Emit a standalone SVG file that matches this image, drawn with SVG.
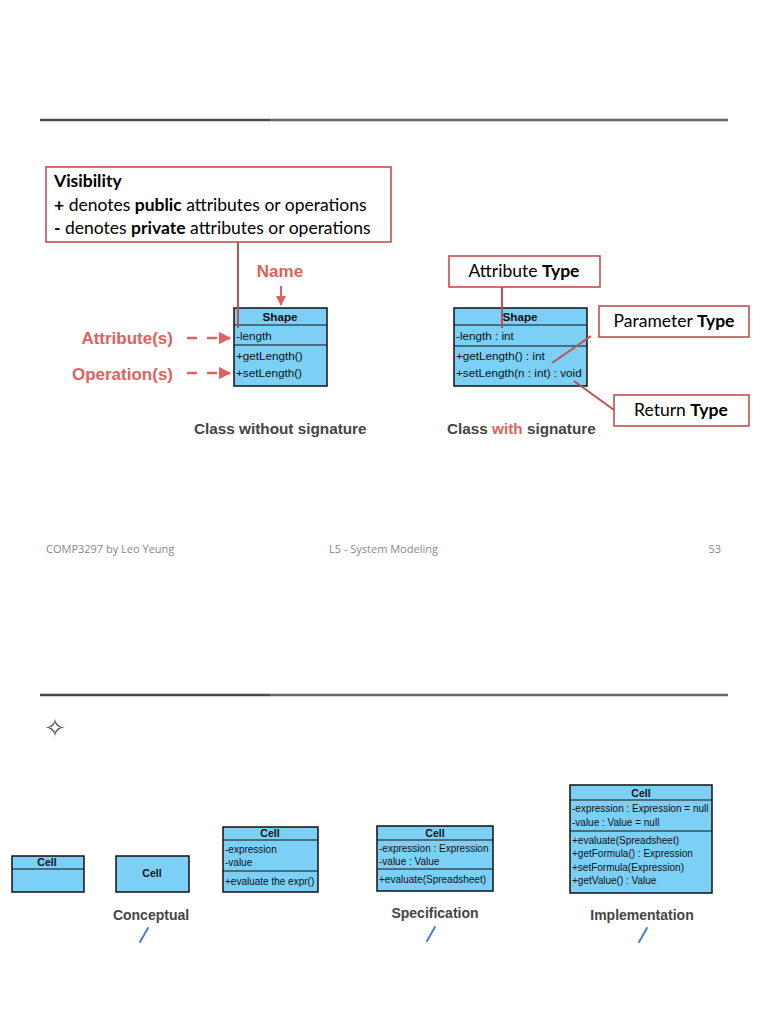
<svg xmlns="http://www.w3.org/2000/svg" width="768" height="1024" viewBox="0 0 768 1024">
<style>
.sep{stroke-width:2.5;fill:none}
.call{fill:#fff;stroke:#c0504d;stroke-width:1.6}
.callt{font-family:Lato,"Liberation Sans",sans-serif;font-size:17.5px;fill:#000}
.b{font-weight:bold}
.red{stroke:#c0504d;stroke-width:2;fill:none}
.redlbl{font-family:"Liberation Sans",Arial,sans-serif;font-weight:bold;font-size:17px;fill:#e0625c}
.cls{fill:#7ccff5;stroke:#111;stroke-width:1.5}
.div{stroke:#111;stroke-width:1.2}
.ct{font-family:"Liberation Sans",Arial,sans-serif;font-size:11.7px;fill:#111}
.cn{font-family:"Liberation Sans",Arial,sans-serif;font-size:11.7px;font-weight:bold;fill:#111}
.bt{font-family:"Liberation Sans",Arial,sans-serif;font-size:10px;fill:#111}
.bn{font-family:"Liberation Sans",Arial,sans-serif;font-size:10.5px;font-weight:bold;fill:#111}
.cap{font-family:"Liberation Sans",Arial,sans-serif;font-size:14px;font-weight:bold;fill:#444}
.cap2{font-family:"Liberation Sans",Arial,sans-serif;font-size:15.3px;font-weight:bold;fill:#444}
.foot{font-family:"Open Sans","Liberation Sans",sans-serif;font-size:11px;fill:#888}
.blue{stroke:#4a7fd0;stroke-width:2;stroke-linecap:round}
</style>
<defs>
<marker id="ah" viewBox="0 0 10 10" refX="9" refY="5" markerWidth="5" markerHeight="5" orient="auto" markerUnits="strokeWidth">
<path d="M0,0 L10,5 L0,10 z" fill="#e0625c"/>
</marker>
</defs>
<rect width="768" height="1024" fill="#fff"/>

<!-- separators -->
<line class="sep" x1="40" y1="120" x2="270" y2="120" stroke="#4a4a4a"/>
<line class="sep" x1="270" y1="120" x2="728" y2="120" stroke="#666"/>
<line class="sep" x1="40" y1="695" x2="270" y2="695" stroke="#4a4a4a"/>
<line class="sep" x1="270" y1="695" x2="728" y2="695" stroke="#666"/>

<!-- Visibility callout -->
<g id="visibility">
<rect class="call" x="46" y="167" width="345" height="75"/>
<text class="callt b" x="54" y="187">Visibility</text>
<text class="callt" x="54" y="211"><tspan class="b">+</tspan> denotes <tspan class="b">public</tspan> attributes or operations</text>
<text class="callt" x="54" y="234"><tspan class="b">-</tspan> denotes <tspan class="b">private</tspan> attributes or operations</text>
</g>

<!-- left Shape class -->
<g id="shape-left">
<rect class="cls" x="234" y="308" width="93" height="78"/>
<line class="div" x1="234" y1="325" x2="327" y2="325"/>
<line class="div" x1="234" y1="345" x2="327" y2="345"/>
<text class="cn" x="280" y="321" text-anchor="middle">Shape</text>
<text class="ct" x="236" y="340">-length</text>
<text class="ct" x="236" y="360">+getLength()</text>
<text class="ct" x="236" y="377">+setLength()</text>
</g>

<g id="label-name"><text class="redlbl" x="280" y="277" text-anchor="middle">Name</text></g>
<g id="label-attributes"><text class="redlbl" x="173" y="344" text-anchor="end">Attribute(s)</text></g>
<g id="label-operations"><text class="redlbl" x="173" y="380" text-anchor="end">Operation(s)</text></g>

<!-- right Shape class -->
<g id="shape-right">
<rect class="cls" x="454" y="308" width="133" height="78"/>
<line class="div" x1="454" y1="325" x2="587" y2="325"/>
<line class="div" x1="454" y1="346" x2="587" y2="346"/>
<text class="cn" x="520" y="321" text-anchor="middle">Shape</text>
<text class="ct" x="456" y="340">-length : int</text>
<text class="ct" x="456" y="360">+getLength() : int</text>
<text class="ct" x="456" y="377">+setLength(n : int) : void</text>
</g>

<g id="attribute-type">
<rect class="call" x="449" y="256" width="151" height="31"/>
<text class="callt" x="524" y="277" text-anchor="middle">Attribute <tspan class="b">Type</tspan></text>
</g>
<g id="parameter-type">
<rect class="call" x="599" y="306" width="150" height="31"/>
<text class="callt" x="674" y="327" text-anchor="middle">Parameter <tspan class="b">Type</tspan></text>
</g>
<g id="return-type">
<rect class="call" x="614" y="395" width="135" height="31"/>
<text class="callt" x="681" y="416" text-anchor="middle">Return <tspan class="b">Type</tspan></text>
</g>

<g id="caption-without"><text class="cap2" x="194" y="434">Class without signature</text></g>
<g id="caption-with"><text class="cap2" x="447" y="434">Class <tspan fill="#e0625c">with</tspan> signature</text></g>

<!-- connectors -->
<g id="connectors">
<line class="red" x1="238" y1="242" x2="238" y2="328"/>
<line x1="281" y1="286" x2="281" y2="305" stroke="#e0625c" stroke-width="2" marker-end="url(#ah)"/>
<line x1="187" y1="338" x2="230" y2="338" stroke="#e0625c" stroke-width="2.5" stroke-dasharray="10,10" marker-end="url(#ah)"/>
<line x1="187" y1="373" x2="230" y2="373" stroke="#e0625c" stroke-width="2.5" stroke-dasharray="10,10" marker-end="url(#ah)"/>
<line class="red" x1="502" y1="287" x2="502" y2="328"/>
<line class="red" x1="591" y1="336" x2="552" y2="363"/>
<line class="red" x1="574" y1="381" x2="614" y2="410"/>
</g>

<!-- footer -->
<g id="footer">
<text class="foot" x="46" y="553">COMP3297 by Leo Yeung</text>
<text class="foot" x="329" y="553">L5 - System Modeling</text>
<text class="foot" x="721" y="553" text-anchor="end">53</text>
</g>

<g id="bullet"><text x="55" y="737" text-anchor="middle" font-family="DejaVu Sans,sans-serif" font-size="26" fill="#555">✧</text></g>

<!-- bottom cells -->
<g id="cell1">
<rect class="cls" x="12" y="856" width="72" height="36"/>
<line class="div" x1="12" y1="869" x2="84" y2="869"/>
<text class="bn" x="47" y="866" text-anchor="middle">Cell</text>
</g>
<g id="cell2">
<rect class="cls" x="116" y="856" width="73" height="36"/>
<text class="bn" x="152" y="877" text-anchor="middle">Cell</text>
</g>
<g id="cell3">
<rect class="cls" x="223" y="827" width="95" height="65"/>
<line class="div" x1="223" y1="840" x2="318" y2="840"/>
<line class="div" x1="223" y1="871" x2="318" y2="871"/>
<text class="bn" x="270" y="837" text-anchor="middle">Cell</text>
<text class="bt" x="225" y="853">-expression</text>
<text class="bt" x="225" y="866">-value</text>
<text class="bt" x="225" y="885">+evaluate the expr()</text>
</g>
<g id="cell4">
<rect class="cls" x="377" y="826" width="116" height="65"/>
<line class="div" x1="377" y1="840" x2="493" y2="840"/>
<line class="div" x1="377" y1="869" x2="493" y2="869"/>
<text class="bn" x="435" y="837" text-anchor="middle">Cell</text>
<text class="bt" x="379" y="852">-expression : Expression</text>
<text class="bt" x="379" y="865">-value : Value</text>
<text class="bt" x="379" y="883">+evaluate(Spreadsheet)</text>
</g>
<g id="cell5">
<rect class="cls" x="570" y="785" width="142" height="108"/>
<line class="div" x1="570" y1="800" x2="712" y2="800"/>
<line class="div" x1="570" y1="831" x2="712" y2="831"/>
<text class="bn" x="641" y="797" text-anchor="middle">Cell</text>
<text class="bt" x="572" y="812">-expression : Expression = null</text>
<text class="bt" x="572" y="826">-value : Value = null</text>
<text class="bt" x="572" y="844">+evaluate(Spreadsheet)</text>
<text class="bt" x="572" y="857">+getFormula() : Expression</text>
<text class="bt" x="572" y="871">+setFormula(Expression)</text>
<text class="bt" x="572" y="884">+getValue() : Value</text>
</g>

<g id="captions-bottom">
<text class="cap" x="151" y="920" text-anchor="middle">Conceptual</text>
<text class="cap" x="435" y="918" text-anchor="middle">Specification</text>
<text class="cap" x="642" y="920" text-anchor="middle">Implementation</text>
</g>
<g id="marks">
<line class="blue" x1="140" y1="942" x2="148" y2="928"/>
<line class="blue" x1="427" y1="941" x2="435" y2="927"/>
<line class="blue" x1="639" y1="942" x2="647" y2="928"/>
</g>
</svg>
